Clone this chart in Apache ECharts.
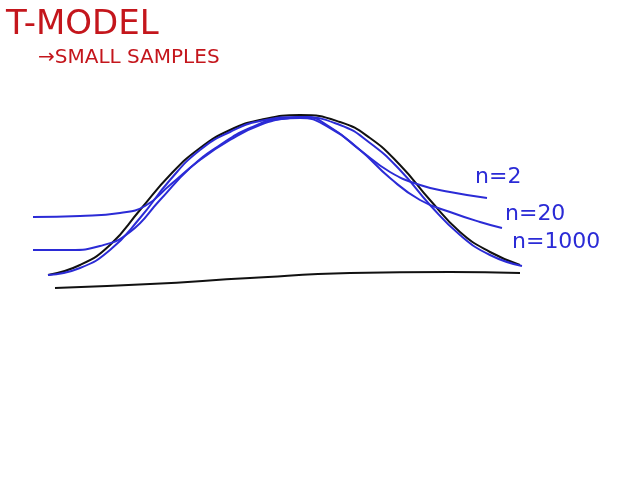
<!DOCTYPE html>
<html>
<head>
<meta charset="utf-8">
<script src="https://cdn.jsdelivr.net/npm/echarts@6/dist/echarts.min.js"></script>
<style>html,body{margin:0;background:#fff}#chart{width:638px;height:479px}</style>
</head>
<body>
<div id="chart"></div>
<script>
// sketch read in canvas-like units (x right, y down)
let normalCurve=[[48,275],[80,265],[110,245],[140,210],[170,175],[200,148],[230,130],[260,120],[300,115],[340,122],[370,138],[400,165],[430,200],[460,232],[490,252],[520,265]];
let n1000=[[48,275],[80,268],[110,250],[140,218],[170,180],[200,150],[230,132],[260,121],[300,117],[340,125],[370,143],[400,170],[430,205],[460,235],[490,255],[522,266]];
let n20=[[33,250],[70,250],[100,246],[130,232],[160,200],[190,168],[220,145],[250,128],[280,119],[300,118],[330,128],[360,150],[390,178],[420,200],[450,212],[480,222],[502,228]];
let n2=[[33,217],[80,216],[120,213],[145,206],[170,185],[200,160],[230,140],[260,125],[290,118],[305,117],[330,127],[360,150],[390,172],[420,185],[450,192],[487,198]];
let baseline=[[55,288],[150,284],[250,278],[350,273],[450,272],[520,273]];
let seriesLabels=[["n=2",475,178],["n=20",505,215],["n=1000",512,243]];

let chart=echarts.init(document.getElementById('chart'));

function line(data,color){
	return {type:"line",data:data,smooth:true,showSymbol:false,silent:true,
		lineStyle:{color:color,width:2}};
}

chart.setOption({
	animation:false,
	grid:{left:0,right:0,top:0,bottom:0},
	xAxis:{type:"value",min:0,max:638,show:false},
	yAxis:{type:"value",min:0,max:479,inverse:true,show:false},
	series:[
		line(baseline,"#111"),
		line(normalCurve,"#111"),
		line(n1000,"#2b2bd6"),
		line(n20,"#2b2bd6"),
		line(n2,"#2b2bd6"),
	],
	graphic:[
		{type:"text",left:6,top:8,style:{text:"T-MODEL",fill:"#c4161c",font:"34px 'DejaVu Sans'"}},
		{type:"text",left:38,top:48,style:{text:"→SMALL SAMPLES",fill:"#c4161c",font:"20px 'DejaVu Sans'"}},
	].concat(seriesLabels.map(function(s){
		return {type:"text",left:s[1],top:s[2]-12,style:{text:s[0],fill:"#2b2bd6",font:"22px 'DejaVu Sans'"}};
	})),
});
</script>
</body>
</html>
